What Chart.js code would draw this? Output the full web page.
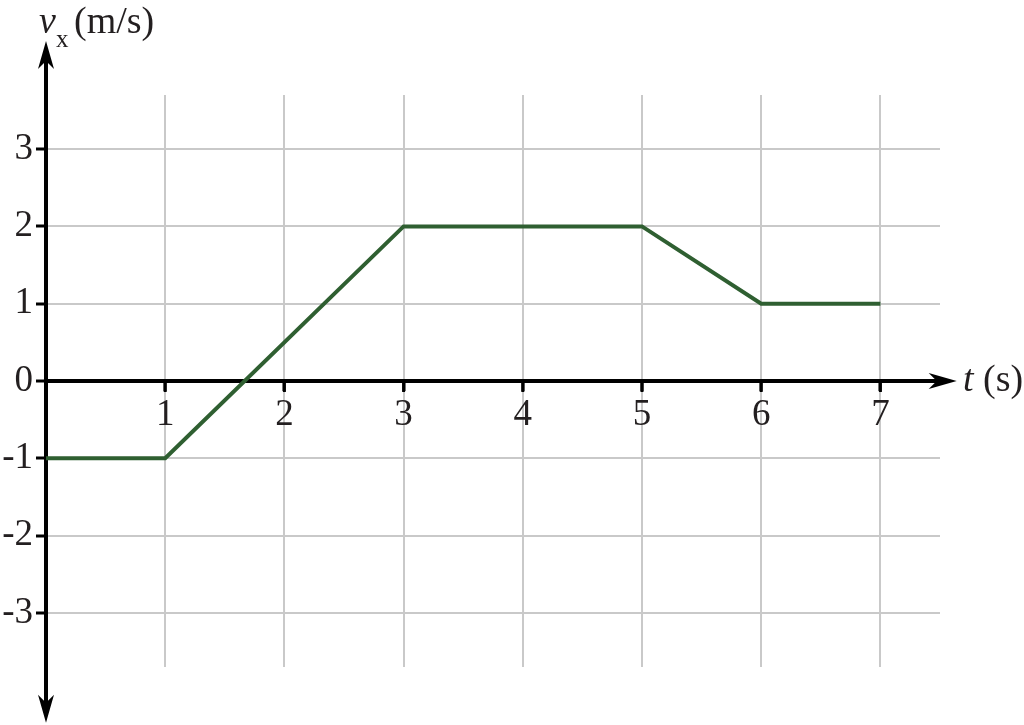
<!DOCTYPE html>
<html>
<head>
<meta charset="utf-8">
<script src="https://cdn.jsdelivr.net/npm/chart.js@4.4.1/dist/chart.umd.min.js"></script>
<style>
  html,body{margin:0;padding:0;background:#fff;}
  #wrap{width:1024px;height:725px;}
</style>
</head>
<body>
<div id="wrap"><canvas id="chart" width="1024" height="725"></canvas></div>
<script>
// velocity vs time
const times = [0, 1, 3, 5, 6, 7];
const velocities = [-1, -1, 2, 2, 1, 1];
const xTicks = [1, 2, 3, 4, 5, 6, 7];
const yTicks = [-3, -2, -1, 0, 1, 2, 3];

const serif = "'Liberation Serif', 'Times New Roman', serif";
const ink = "#231f20";

// axes with arrow heads, drawn on top of the grid but under the line
const axesPlugin = {
  id: "axes",
  beforeDatasetsDraw(chart){
    const ctx = chart.ctx;
    const xs = chart.scales.x, ys = chart.scales.y;
    const x0 = xs.getPixelForValue(0), y0 = ys.getPixelForValue(0);
    const yTop = ys.getPixelForValue(4.4), yBot = ys.getPixelForValue(-4.42);
    const xEnd = xs.getPixelForValue(7.64);
    ctx.save();
    ctx.strokeStyle = "#000";
    ctx.fillStyle = "#000";
    ctx.lineWidth = 4;
    ctx.beginPath();
    ctx.moveTo(x0, yTop + 10); ctx.lineTo(x0, yBot - 10);
    ctx.moveTo(x0, y0); ctx.lineTo(xEnd - 10, y0);
    ctx.stroke();
    // small tick marks under the time axis
    ctx.lineWidth = 3;
    ctx.beginPath();
    xTicks.forEach(v => {
      const px = xs.getPixelForValue(v);
      ctx.moveTo(px, y0); ctx.lineTo(px, y0 + 11);
    });
    ctx.stroke();
    arrow(ctx, x0, yTop, 0, -1);
    arrow(ctx, x0, yBot, 0, 1);
    arrow(ctx, xEnd, y0, 1, 0);

    // axis titles
    ctx.fillStyle = ink;
    ctx.textBaseline = "alphabetic";
    ctx.textAlign = "left";
    ctx.font = "italic 38px " + serif;
    ctx.fillText("v", 39, 33);
    ctx.font = "25px " + serif;
    ctx.fillText("x", 56, 47);
    ctx.font = "38px " + serif;
    ctx.fillText("(m/s)", 74, 33);
    ctx.font = "italic 38px " + serif;
    ctx.fillText("t", 963, y0 + 10);
    ctx.font = "38px " + serif;
    ctx.fillText("(s)", 983, y0 + 10);
    ctx.restore();
  }
};

function arrow(ctx, x, y, dx, dy){
  const len = 28, half = 8, notch = 20;
  const px = -dy, py = dx;
  ctx.beginPath();
  ctx.moveTo(x, y);
  ctx.lineTo(x - dx*len + px*half, y - dy*len + py*half);
  ctx.lineTo(x - dx*notch, y - dy*notch);
  ctx.lineTo(x - dx*len - px*half, y - dy*len - py*half);
  ctx.closePath();
  ctx.fill();
}

const gridColor = c => (c.tick && c.tick.value === 0) ? "rgba(0,0,0,0)" : "#c9c9c9";

new Chart(document.getElementById("chart"), {
  type: "line",
  data: {
    datasets: [{
      data: times.map((t, i) => ({x: t, y: velocities[i]})),
      borderColor: "#2f5f31",
      borderWidth: 4,
      pointRadius: 0,
      tension: 0,
      fill: false
    }]
  },
  options: {
    responsive: false,
    animation: false,
    layout: { padding: { left: 0, right: 84, top: 95, bottom: 58 } },
    plugins: { legend: { display: false }, tooltip: { enabled: false } },
    scales: {
      x: {
        type: "linear",
        position: { y: 0 },
        min: 0, max: 7.5,
        afterBuildTicks: s => { s.ticks = [0].concat(xTicks).map(v => ({value: v})); },
        ticks: {
          callback: v => v === 0 ? "" : v,
          font: { family: serif, size: 37 },
          color: ink,
          padding: 2,
          maxRotation: 0,
          autoSkip: false
        },
        grid: { color: gridColor, lineWidth: 2, tickColor: "#000", tickLength: 10, tickWidth: 3 },
        border: { display: false }
      },
      y: {
        type: "linear",
        position: "left",
        min: -3.7, max: 3.7,
        afterBuildTicks: s => { s.ticks = yTicks.map(v => ({value: v})); },
        afterFit: s => { s.width = 46; },
        ticks: {
          font: { family: serif, size: 37 },
          color: ink,
          padding: 3,
          autoSkip: false
        },
        grid: { color: gridColor, lineWidth: 2, tickColor: "#000", tickLength: 10, tickWidth: 3 },
        border: { display: false }
      }
    }
  },
  plugins: [axesPlugin]
});
</script>
</body>
</html>
